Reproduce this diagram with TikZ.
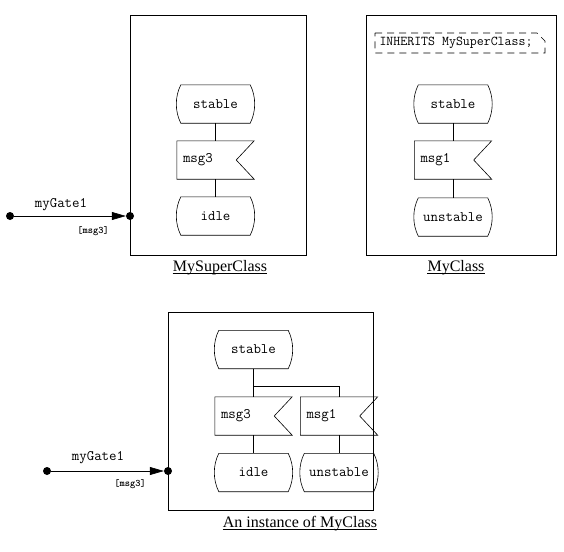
\documentclass[tikz,border=0pt]{standalone}
\usepackage{fontspec}
\setmainfont{Liberation Serif}
\usetikzlibrary{arrows.meta}
\tikzset{
  sdl/.style={inner sep=0pt, font=\fontsize{14.5}{16}\selectfont\ttfamily},
  statebox/.style={sdl, minimum width=77pt, minimum height=38pt},
  inputbox/.style={sdl, minimum height=38pt, text width=65pt, inner xsep=6pt, align=left},
  gatedot/.style={circle, fill, inner sep=0pt, minimum size=8pt},
  gatename/.style={sdl},
  signallist/.style={inner sep=0pt, font=\fontsize{10}{12}\selectfont\ttfamily\bfseries},
  frame/.style={line width=0.8pt},
  classname/.style={inner sep=0pt, font=\fontsize{16}{18}\selectfont},
  link/.style={line width=0.6pt},
}
\begin{document}
\begin{tikzpicture}[x=1pt, y=-1pt]
	\useasboundingbox (0,0) rectangle (564,551);
	% frames
	\draw[frame] (130,15) rectangle (306,255);
	\draw[frame] (366,15) rectangle (556,255);
	\draw[frame] (168,312) rectangle (373,510);
	\node[classname] (lsuper) at (220,268) {MySuperClass};
	\node[classname] (lclass) at (456,268) {MyClass};
	\node[classname] (linst) at (300,524) {An instance of MyClass};
	\foreach \n in {lsuper,lclass,linst}{\draw[link] ([yshift=-1.8pt]\n.base west) -- ([yshift=-1.8pt]\n.base east);};
	% MySuperClass
	\node[statebox] (sa) at (215.5,104) {stable};
	\node[inputbox] (ma) at (215.5,160) {msg3};
	\node[statebox] (ia) at (215.5,216) {idle};
	% MyClass
	\draw[link, dashed, dash pattern=on 7pt off 5pt] (375,33) -- (537,33) -- (545,41) -- (545,53) -- (375,53) -- cycle;
	\node[sdl, font=\fontsize{13.5}{16}\selectfont\ttfamily] (inh) at (456,43) {INHERITS MySuperClass;};
	\node[statebox] (sb) at (453,104) {stable};
	\node[inputbox] (mb) at (453,160) {msg1};
	\node[statebox] (ub) at (453,217) {unstable};
	% instance
	\node[statebox] (sc) at (253.5,349.5) {stable};
	\node[inputbox] (mc) at (253.5,416) {msg3};
	\node[inputbox] (md) at (339,416) {msg1};
	\node[statebox] (ic) at (253.5,472.5) {idle};
	\node[statebox] (uc) at (339,472.5) {unstable};
	% shapes
	\foreach \n in {sa,ia,sb,ub,sc,ic,uc}{\draw[link] ([xshift=4pt]\n.north west) -- ([xshift=-4pt]\n.north east) .. controls +(6,12) and +(6,-12) .. ([xshift=-4pt]\n.south east) -- ([xshift=4pt]\n.south west) .. controls +(-6,-12) and +(-6,12) .. ([xshift=4pt]\n.north west) -- cycle;};
	\foreach \n in {ma,mb,mc,md}{\draw[link] (\n.north west) -- (\n.north east) -- ([xshift=-18pt]\n.east) -- (\n.south east) -- (\n.south west) -- cycle;};
	% flow lines
	\draw[link] (sa) -- (ma) (ma) -- (ia);
	\draw[link] (sb) -- (mb) (mb) -- (ub);
	\draw[link] (sc) -- (mc) (mc) -- (ic) (md) -- (uc);
	\draw[link] (sc.south) -- ++(0,18) -| (md.north);
	% gates
	\node[gatedot] (ga) at (10,216) {};
	\node[gatedot] (gb) at (130,216) {};
	\draw[link, -{Triangle[length=14pt,width=8pt]}] (ga) -- (gb);
	\node[gatename] (gna) at (61,205) {myGate1};
	\node[signallist] (sla) at (93,231) {[msg3]};
	\node[gatedot] (gc) at (47,471) {};
	\node[gatedot] (gd) at (168,471) {};
	\draw[link, -{Triangle[length=14pt,width=8pt]}] (gc) -- (gd);
	\node[gatename] (gnb) at (98,458) {myGate1};
	\node[signallist] (slb) at (130,484) {[msg3]};
\end{tikzpicture}
\end{document}
